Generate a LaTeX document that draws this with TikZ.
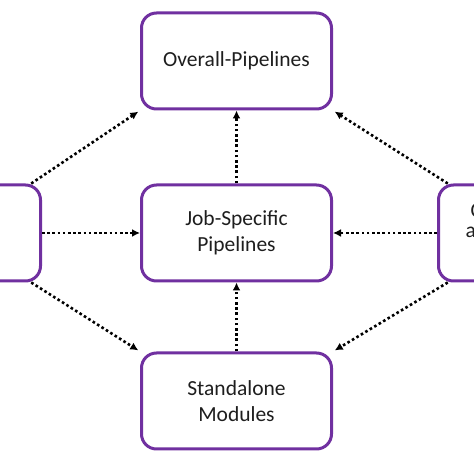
\documentclass[tikz,border=0pt]{standalone}
\usepackage{fontspec}
\setmainfont{Carlito}
\usetikzlibrary{arrows.meta,positioning}
\definecolor{boxpurple}{HTML}{7030A0}
\definecolor{textgray}{HTML}{1E1E1E}
\tikzset{
  modbox/.style={draw=boxpurple, line width=3pt, rounded corners=15pt, minimum width=190pt, minimum height=96pt, align=center, text=textgray, font=\fontsize{21.5}{26}\selectfont},
  dep/.style={->, >={Latex[length=8pt,width=8pt]}, line width=2.6pt, dash pattern=on 2.6pt off 2.6pt},
  cut/.style={text=textgray, font=\fontsize{21.5}{26}\selectfont, inner sep=0pt}
}
\begin{document}
\begin{tikzpicture}[x=1pt,y=1pt]
          \useasboundingbox (0,0) rectangle (474,474);
          \clip (0,0) rectangle (474,474);
          % boxes
          \node[modbox] (obox) at (236.5,413) {Overall-Pipelines};
          \node[modbox] (jbox) at (236.5,241) {Job-Specific\\Pipelines};
          \node[modbox] (sbox) at (236.5,73) {Standalone\\Modules};
          \node[modbox] (lbox) at (-54.5,241) {};
          \node[modbox] (rbox) at (533.5,241) {};
          % what shows of the right box's text
          \node[cut, anchor=base west] (rtxt1) at (470.5,256) {C};
          \node[cut, anchor=base west] (rtxt2) at (465.5,236) {a};

          % straight links
          \draw[dep] (jbox.north) -- (obox.south);
          \draw[dep] (sbox.north) -- (jbox.south);
          \draw[dep] (lbox.east) -- (jbox.west);
          \draw[dep] (rbox.west) -- (jbox.east);

          % corner links
          \draw[dep, shorten >=2pt] (lbox.30) -- (obox.south west);
          \draw[dep, shorten >=2pt] (lbox.-30) -- (sbox.north west);
          \draw[dep, shorten >=2pt] (rbox.150) -- (obox.south east);
          \draw[dep, shorten >=2pt] (rbox.-150) -- (sbox.north east);
        \end{tikzpicture}
\end{document}
